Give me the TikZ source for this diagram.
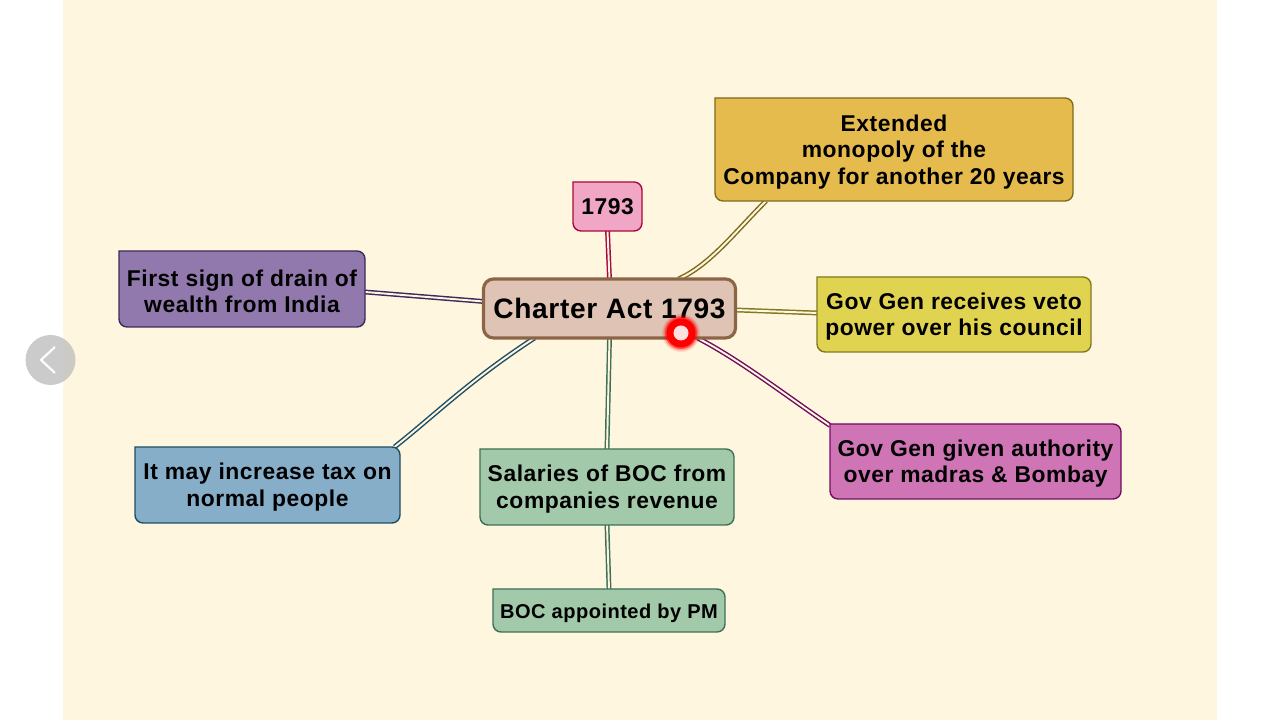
\documentclass[tikz,border=0pt]{standalone}
\usetikzlibrary{backgrounds}
\usepackage{fontspec}
\setmainfont[LetterSpace=2.4]{Liberation Sans}
\newcommand{\lowertext}{\rule{0pt}{6pt}}
\definecolor{cream}{HTML}{FFF6E0}
\definecolor{charterfill}{RGB}{223,195,180}
\definecolor{charterdraw}{RGB}{140,100,70}
\definecolor{goldfill}{RGB}{229,187,77}
\definecolor{golddraw}{RGB}{126,107,30}
\definecolor{pinkfill}{RGB}{240,166,196}
\definecolor{pinkdraw}{RGB}{168,8,63}
\definecolor{yellowfill}{RGB}{224,211,79}
\definecolor{yellowdraw}{RGB}{127,122,32}
\definecolor{purplefill}{RGB}{146,121,173}
\definecolor{purpledraw}{RGB}{60,42,92}
\definecolor{magentafill}{RGB}{207,117,181}
\definecolor{magentadraw}{RGB}{111,15,95}
\definecolor{bluefill}{RGB}{134,174,201}
\definecolor{bluedraw}{RGB}{31,79,102}
\definecolor{greenfill}{RGB}{162,201,169}
\definecolor{greendraw}{RGB}{61,112,85}
\begin{document}
\begin{tikzpicture}
        [box/.style={rectangle,outer sep=0pt,inner sep=0pt,align=center,text=black,
            font=\bfseries\fontsize{6.5}{7.55}\selectfont},
        outline/.style={draw=#1draw,fill=#1fill,line width=0.4pt},
        link/.style={draw=#1draw,line width=0.42pt,double=cream,double distance=0.55pt}]
    \useasboundingbox (0,0) rectangle (12.8,7.2);
    % boxes
    \node[box,minimum width=2.52cm,minimum height=0.59cm,font=\bfseries\fontsize{8}{9}\selectfont] (charter) at (6.095,4.115) {Charter Act 1793};
    \node[box,minimum width=3.58cm,minimum height=1.03cm] (monopoly) at (8.94,5.705) {\lowertext Extended\\monopoly of the\\Company for another 20 years};
    \node[box,minimum width=0.69cm,minimum height=0.49cm] (year) at (6.075,5.135) {1793};
    \node[box,minimum width=2.74cm,minimum height=0.75cm] (veto) at (9.54,4.055) {\lowertext Gov Gen receives veto\\power over his council};
    \node[box,minimum width=2.46cm,minimum height=0.76cm] (drain) at (2.42,4.31) {\lowertext First sign of drain of\\wealth from India};
    \node[box,minimum width=2.91cm,minimum height=0.75cm] (madras) at (9.755,2.585) {\lowertext Gov Gen given authority\\over madras \& Bombay};
    \node[box,minimum width=2.65cm,minimum height=0.76cm] (tax) at (2.675,2.35) {\lowertext It may increase tax on\\normal people};
    \node[box,minimum width=2.54cm,minimum height=0.76cm] (salary) at (6.07,2.33) {\lowertext Salaries of BOC from\\companies revenue};
    \node[box,minimum width=2.32cm,minimum height=0.43cm,font=\bfseries\fontsize{5.7}{7}\selectfont] (pm) at (6.09,1.095) {\rule{0pt}{5.5pt}BOC appointed by PM};
    \begin{pgfonlayer}{background}
        \fill[white] (0,0) rectangle (12.8,7.2);
        \fill[cream] (0.63,0) rectangle (12.17,7.2);
        % links
        \draw[link=pink] (year.south) -- (charter.north);
        \draw[link=gold] ([xshift=-1.28cm]monopoly.south) .. controls (7.35,4.88) and (7.1,4.55) .. ([xshift=0.69cm]charter.north);
        \draw[link=yellow] ([yshift=-0.015cm]charter.east) -- ([yshift=0.015cm]veto.west);
        \draw[link=purple] ([yshift=-0.03cm]drain.east) -- ([yshift=0.07cm]charter.west);
        \draw[link=magenta] ([yshift=0.36cm]madras.west) .. controls (7.85,3.25) and (7.4,3.6) .. ([xshift=0.88cm]charter.south);
        \draw[link=blue] ([xshift=1.27cm]tax.north) .. controls (4.35,3.05) and (4.7,3.4) .. ([xshift=-0.75cm]charter.south);
        \draw[link=green] (charter.south) -- (salary.north);
        \draw[link=green] (salary.south) -- (pm.north);
        % outlines, top left corner square
        \draw[outline=charter,line width=0.9pt,rounded corners=0.1cm] (charter.north west) rectangle (charter.south east);
        \foreach \n/\c in {monopoly/gold,year/pink,veto/yellow,drain/purple,madras/magenta,tax/blue,salary/green,pm/green} {
            \draw[outline=\c] (\n.north west) [rounded corners=0.08cm] -- (\n.north east) -- (\n.south east) -- (\n.south west) -- ([yshift=-0.12cm]\n.north west) [sharp corners] -- cycle;
        }
    \end{pgfonlayer}
    % back button
    \fill[gray!50!white,opacity=0.8] (0.505,3.6) circle (0.25);
    \coordinate (backtop) at (0.55,3.73);
    \coordinate (backtip) at (0.41,3.6);
    \coordinate (backend) at (0.55,3.47);
    \draw[white,line width=0.6pt] (backtop) -- (backtip) -- (backend);
    % pointer
    \foreach \r/\o in {0.19/0.12,0.175/0.25,0.16/0.5} {
        \fill[red,opacity=\o] (6.81,3.87) circle (\r);
    }
    \node[circle,fill=red,minimum size=0.29cm,inner sep=0pt] (pointer) at (6.81,3.87) {};
    \node[circle,fill=red!12!white,minimum size=0.15cm,inner sep=0pt] (pointercore) at (pointer) {};
\end{tikzpicture}
\end{document}
